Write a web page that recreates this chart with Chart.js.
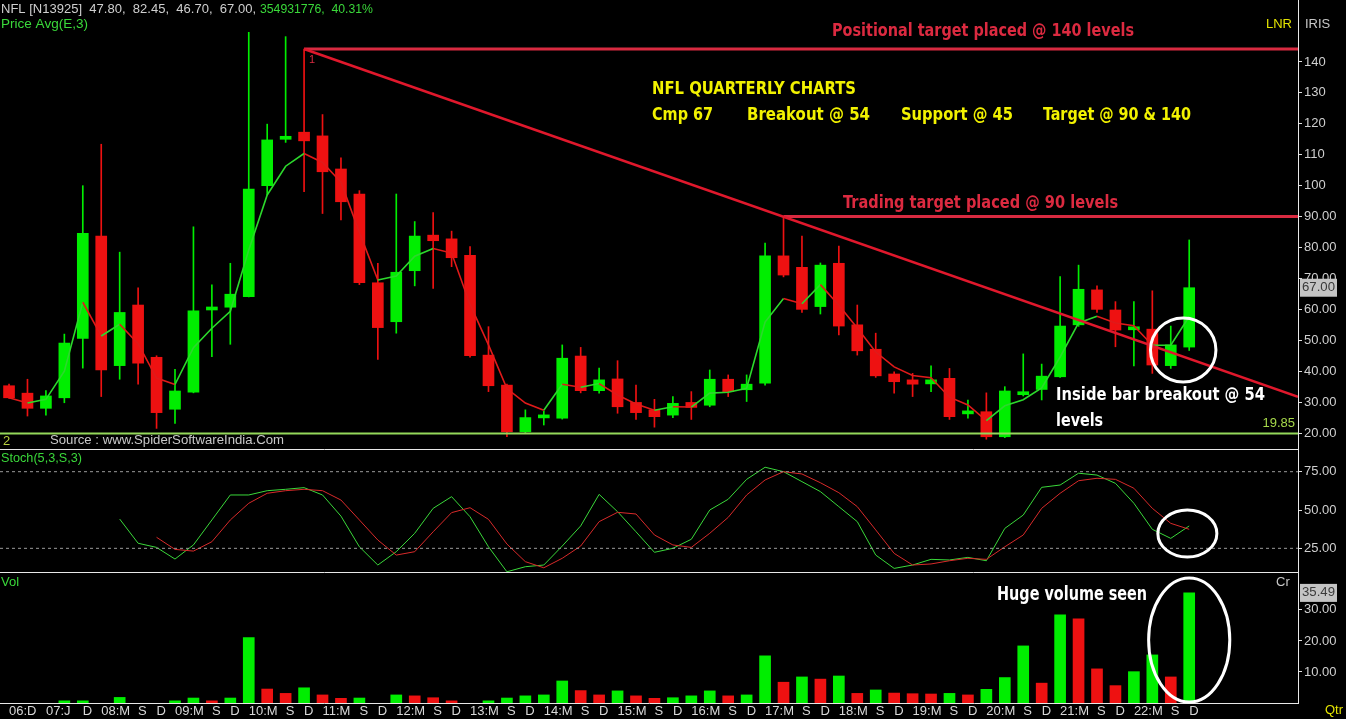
<!DOCTYPE html>
<html>
<head>
<meta charset="utf-8">
<script src="https://cdn.jsdelivr.net/npm/chart.js@4.4.0/dist/chart.umd.min.js"></script>
<style>
  html, body { margin: 0; padding: 0; background: #000; overflow: hidden; }
  #wrap { position: relative; width: 1346px; height: 719px; background: #000; }
  canvas { position: absolute; left: 0; }
</style>
</head>
<body>
<div id="wrap">
  <canvas id="pricePane" width="1346" height="449" style="top:0"></canvas>
  <canvas id="stochPane" width="1346" height="124" style="top:449px"></canvas>
  <canvas id="volPane" width="1346" height="146" style="top:573px"></canvas>
</div>
<script>
// quarterly candles, 06:D .. 22:D
const quarters = ['06:D',
  '07:M','07:J','07:S','07:D', '08:M','08:J','08:S','08:D', '09:M','09:J','09:S','09:D',
  '10:M','10:J','10:S','10:D', '11:M','11:J','11:S','11:D', '12:M','12:J','12:S','12:D',
  '13:M','13:J','13:S','13:D', '14:M','14:J','14:S','14:D', '15:M','15:J','15:S','15:D',
  '16:M','16:J','16:S','16:D', '17:M','17:J','17:S','17:D', '18:M','18:J','18:S','18:D',
  '19:M','19:J','19:S','19:D', '20:M','20:J','20:S','20:D', '21:M','21:J','21:S','21:D',
  '22:M','22:J','22:S','22:D'];
const tickLabels = ['06:D',
  '','07:J','','D', '08:M','','S','D', '09:M','','S','D',
  '10:M','','S','D', '11:M','','S','D', '12:M','','S','D',
  '13:M','','S','D', '14:M','','S','D', '15:M','','S','D',
  '16:M','','S','D', '17:M','','S','D', '18:M','','S','D',
  '19:M','','S','D', '20:M','','S','D', '21:M','','S','D',
  '22:M','','S','D'];

const opens  = [35.3,32.9,28.0,31.4,50.6,83.7,41.8,61.4,44.5,27.7,33.2,59.8,60.7,64.1,100.0,115.0,117.3,116.1,105.4,97.3,68.6,56.0,72.5,84.0,82.8,77.5,45.2,35.5,20.4,24.9,24.8,44.9,33.7,37.5,29.9,27.5,25.8,29.9,29.0,37.4,34.0,36.1,77.3,73.6,60.9,74.9,55.0,47.1,39.1,37.2,35.9,37.7,26.2,26.9,18.8,32.4,34.1,38.2,55.0,66.3,59.8,53.4,53.6,41.8,47.8];
const highs  = [35.8,37.4,33.7,52.0,100.0,113.4,78.5,67.0,45.0,40.6,86.7,67.9,74.9,149.6,119.9,148.2,144.2,123.0,109.0,98.4,74.9,97.3,88.4,91.3,85.3,80.3,54.4,35.8,27.5,27.1,48.5,47.7,41.0,43.4,35.5,30.9,31.8,33.4,40.4,38.8,38.8,81.4,90.0,83.7,75.0,80.5,61.4,52.3,39.8,39.3,41.7,40.9,30.7,33.0,35.0,45.6,42.3,70.6,74.3,67.6,62.5,62.5,66.0,54.6,82.45];
const lows   = [31.2,25.5,25.8,29.8,41.0,31.8,37.4,35.8,21.5,23.1,33.0,44.7,48.7,64.0,97.0,114.0,98.1,91.0,88.9,68.0,43.8,52.3,67.6,66.8,73.8,44.5,33.4,18.8,20.0,22.6,24.5,33.0,32.9,26.4,24.4,21.9,25.0,24.4,28.5,31.8,30.2,35.5,70.5,59.0,58.5,51.7,45.2,38.0,32.9,31.8,33.4,24.4,24.8,18.0,18.5,32.0,30.7,38.0,54.5,59.0,47.9,41.7,39.3,40.9,46.7];
const closes = [31.4,28.0,32.0,49.1,84.6,40.4,59.0,42.6,26.6,33.6,59.5,60.2,64.9,98.9,114.8,115.6,114.5,104.5,94.8,68.6,54.1,72.0,83.7,82.2,76.7,45.0,35.3,20.4,25.0,25.1,44.2,33.7,37.2,28.5,26.6,25.3,29.6,28.3,37.4,33.4,35.8,77.3,71.1,60.0,74.3,54.6,46.6,38.5,36.6,35.8,37.2,25.3,26.6,18.8,33.6,32.8,38.4,54.6,66.5,60.0,53.3,53.8,42.0,48.5,67.0];
// Price Avg(E,3)
const priceAvg = [31.4,29.7,30.9,40.0,62.3,51.4,55.2,48.9,37.8,35.7,47.6,53.9,59.4,79.2,97.0,106.3,110.4,107.5,101.1,84.9,69.5,70.8,77.2,79.7,78.2,61.6,48.5,34.4,29.7,27.4,35.8,34.8,36.0,32.3,29.4,27.4,28.5,28.4,32.9,33.2,34.5,55.9,63.5,61.8,68.0,61.3,54.0,46.2,41.4,38.6,37.9,31.6,29.1,24.0,28.8,30.8,34.6,44.6,55.6,57.8,55.6,54.7,48.4,48.4,57.7];

// Stoch(5,3,S,3)
const stochK = [null,null,null,null,null,null,44.1,28.3,25.6,18.0,27.2,43.5,59.8,59.8,62.6,63.5,64.6,59.8,46.0,26.0,14.1,22.8,34.8,51.1,58.7,45.6,26.0,9.7,13.0,14.1,26.5,39.6,60.2,48.9,35.8,22.4,25.0,30.9,50.0,57.0,70.0,77.9,75.0,68.5,62.0,52.2,42.4,20.6,11.9,14.1,17.8,17.4,19.1,16.9,38.0,46.7,64.8,66.3,74.0,72.8,67.4,54.4,37.4,31.5,39.6];
const stochD = [null,null,null,null,null,null,null,null,32.2,24.3,23.2,29.3,43.5,54.4,60.9,62.6,63.5,62.6,56.5,43.5,30.4,20.6,22.8,35.8,48.3,51.5,43.9,27.8,16.3,12.3,18.5,26.5,42.4,48.5,47.4,33.7,27.2,25.6,34.8,45.2,59.8,69.6,75.0,73.5,67.8,61.3,52.2,37.0,21.7,14.1,14.8,16.9,18.5,17.8,26.0,33.7,51.1,60.9,69.1,70.7,70.0,64.2,51.1,41.3,37.4];

// Volume, crores
const volumes = [null,null,null,0.7,0.7,null,1.8,null,null,0.7,1.6,0.7,1.6,21.1,4.5,3.1,4.9,2.6,1.5,1.6,null,2.6,2.3,1.7,0.7,null,0.7,1.6,2.3,2.6,7.1,4.0,2.6,3.9,2.3,1.5,1.7,2.3,3.9,2.3,2.6,15.2,6.7,8.4,7.7,8.7,3.1,4.2,3.2,3.0,2.9,3.1,2.6,4.4,8.2,18.4,6.4,28.4,27.1,11.0,5.6,10.1,15.5,8.4,35.49];

const priceTicks = [20,30,40,50,60,70,80,90,100,110,120,130,140];
const stochTicks = [25,50,75];
const volTicks = [10,20,30];

const supportLevel = 19.85;
const swingHigh = {x: 16, y: 144.2};
const trendEnd = {x: 69.9, y: 31.7};
const tradeTarget = {x: 42, y: 90};

// ---------------------------------------------------------------
const X_MIN = -0.49, X_MAX = 69.9;
const UP = '#00ee00', DOWN = '#ee1111';
const UI_FONT = "'Liberation Sans Narrow', 'Liberation Sans', Arial, sans-serif";
const NOTE_FONT = "'DejaVu Sans Condensed', 'DejaVu Sans', sans-serif";
const idx = closes.map((_, i) => i);
const candleCol = idx.map(i => closes[i] >= opens[i] ? UP : DOWN);

Chart.defaults.font.family = UI_FONT;
Chart.defaults.color = '#d0d0d0';

function txt(ctx, s, x, y, w, font, color, align) {
  ctx.save();
  ctx.font = font;
  ctx.fillStyle = color;
  ctx.textBaseline = 'middle';
  ctx.textAlign = 'left';
  const m = ctx.measureText(s).width;
  const sx = w ? w / m : 1;
  const realW = m * sx;
  const left = align === 'right' ? x - realW : x;
  ctx.translate(left, y);
  ctx.scale(sx, 1);
  ctx.fillText(s, 0, 0);
  ctx.restore();
}

function ring(chart, e) {
  const ctx = chart.ctx, xs = chart.scales.x, ys = chart.scales.y;
  const x0 = xs.getPixelForValue(e.x0), x1 = xs.getPixelForValue(e.x1);
  const y0 = ys.getPixelForValue(e.y0), y1 = ys.getPixelForValue(e.y1);
  ctx.save();
  ctx.beginPath();
  ctx.ellipse((x0 + x1) / 2, (y0 + y1) / 2, Math.abs(x1 - x0) / 2, Math.abs(y1 - y0) / 2, 0, 0, Math.PI * 2);
  ctx.lineWidth = 3;
  ctx.strokeStyle = '#ffffff';
  ctx.stroke();
  ctx.restore();
}

function valueBox(chart, v, s) {
  const ctx = chart.ctx, y = chart.scales.y.getPixelForValue(v);
  const x = chart.chartArea.right + 2;
  ctx.save();
  ctx.fillStyle = '#c4c4c4';
  ctx.fillRect(x, y - 9, 37, 18);
  ctx.restore();
  txt(ctx, s, x + 2, y, 33, '13px ' + UI_FONT, '#3a3a3a');
}

function rightAxis(min, max, ticks, fmt) {
  return {
    position: 'right', min: min, max: max,
    afterBuildTicks: s => { s.ticks = ticks.map(v => ({value: v})); },
    afterFit: s => { s.width = 48; s.paddingTop = 0; s.paddingBottom = 0; },
    ticks: { color: '#cfcfcf', font: {size: 13}, padding: 2, callback: fmt },
    grid: { drawOnChartArea: false, drawTicks: true, tickLength: 4, tickColor: '#e0e0e0', color: '#e0e0e0' },
    border: { display: true, color: '#e8e8e8', dash: [2, 2] }
  };
}

const hiddenX = { type: 'linear', min: X_MIN, max: X_MAX, offset: false, display: false };

function seg(a, b, color, width) {
  return { type: 'line', data: [a, b], borderColor: color, borderWidth: width, pointRadius: 0, fill: false, order: 0 };
}

// ---------------- price pane ----------------
const pricePane = new Chart(document.getElementById('pricePane'), {
  type: 'bar',
  data: {
    datasets: [
      seg(swingHigh, trendEnd, '#e0182c', 2.5),
      seg(swingHigh, {x: X_MAX, y: swingHigh.y}, '#d82a40', 3),
      seg(tradeTarget, {x: X_MAX, y: tradeTarget.y}, '#d82a40', 3),
      seg({x: X_MIN, y: supportLevel}, {x: X_MAX, y: supportLevel}, '#94d85a', 2),
      {
        type: 'line', data: idx.map(i => ({x: i, y: priceAvg[i]})),
        borderWidth: 1.6, pointRadius: 0, fill: false, order: 1,
        segment: { borderColor: c => c.p1.parsed.y >= c.p0.parsed.y ? '#2cd82c' : '#e01a1a' }
      },
      {
        data: idx.map(i => ({x: i, y: [opens[i], closes[i]]})),
        backgroundColor: candleCol, barThickness: 11, minBarLength: 3, grouped: false, order: 2
      },
      {
        data: idx.map(i => ({x: i, y: [lows[i], highs[i]]})),
        backgroundColor: candleCol, barThickness: 1, grouped: false, order: 3
      }
    ]
  },
  options: {
    responsive: false, animation: false, events: [],
    layout: { padding: 0 },
    plugins: { legend: { display: false }, tooltip: { enabled: false } },
    scales: {
      x: hiddenX,
      y: rightAxis(14.84, 160.05, priceTicks, v => v >= 100 ? String(v) : v.toFixed(2))
    }
  },
  plugins: [{
    id: 'priceNotes',
    afterDraw(chart) {
      const ctx = chart.ctx, xs = chart.scales.x, ys = chart.scales.y;
      const B = 'bold 18px ' + NOTE_FONT;
      const notes = [
        ['Positional target placed @ 140 levels', 44.63, 150.0, 302, '#dc2a40'],
        ['NFL QUARTERLY CHARTS', 34.87, 131.3, 204, '#f2f200'],
        ['Cmp 67', 34.87, 122.9, 61, '#f2f200'],
        ['Breakout @ 54', 40.02, 122.9, 123, '#f2f200'],
        ['Support @ 45', 48.37, 122.9, 112, '#f2f200'],
        ['Target @ 90 & 140', 56.07, 122.9, 148, '#f2f200'],
        ['Trading target placed @ 90 levels', 45.23, 94.4, 275, '#dc2a40'],
        ['Inside bar breakout @ 54', 56.78, 32.3, 209, '#ffffff'],
        ['levels', 56.78, 23.9, 47, '#ffffff']
      ];
      notes.forEach(n => txt(ctx, n[0], xs.getPixelForValue(n[1]), ys.getPixelForValue(n[2]), n[3], B, n[4]));

      ring(chart, {x0: 61.9, x1: 65.45, y0: 57.2, y1: 36.5});

      const S = '13px ' + UI_FONT;
      txt(ctx, 'NFL [N13925]  47.80,  82.45,  46.70,  67.00,', 1, 9, 255, S, '#cfcfcf');
      txt(ctx, '354931776,  40.31%', 260, 9, 113, S, '#3ad83a');
      txt(ctx, 'Price Avg(E,3)', 1, 24, 87, S, '#3ad83a');
      txt(ctx, 'LNR', 1266, 24, 0, S, '#e4e400');
      txt(ctx, 'IRIS', 1305, 24, 0, S, '#c8c8c8');
      txt(ctx, '1', xs.getPixelForValue(swingHigh.x) + 5, ys.getPixelForValue(swingHigh.y) + 11, 0, '11px ' + UI_FONT, '#d82a40');
      txt(ctx, '19.85', chart.chartArea.right - 3, ys.getPixelForValue(supportLevel) - 10, 0, S, '#a6d84a', 'right');
      txt(ctx, '2', 3, 441, 0, S, '#b8d040');
      txt(ctx, 'Source : www.SpiderSoftwareIndia.Com', 50, 441, 234, '12px ' + UI_FONT, '#c8c8c8');
      valueBox(chart, closes[closes.length - 1], '67.00');
    }
  }]
});

// ---------------- stochastic pane ----------------
function flat(v) {
  return { type: 'line', data: [{x: X_MIN, y: v}, {x: X_MAX, y: v}], borderColor: '#9a9a9a', borderWidth: 1, borderDash: [3, 3], pointRadius: 0, fill: false };
}
const stochPane = new Chart(document.getElementById('stochPane'), {
  type: 'line',
  data: {
    datasets: [
      flat(75), flat(25),
      { data: idx.map(i => ({x: i, y: stochD[i]})), borderColor: '#d82a2a', borderWidth: 1, pointRadius: 0, fill: false },
      { data: idx.map(i => ({x: i, y: stochK[i]})), borderColor: '#3ad83a', borderWidth: 1, pointRadius: 0, fill: false }
    ]
  },
  options: {
    responsive: false, animation: false, events: [],
    layout: { padding: 0 },
    plugins: { legend: { display: false }, tooltip: { enabled: false } },
    scales: {
      x: hiddenX,
      y: rightAxis(8.9, 89.8, stochTicks, v => v.toFixed(2))
    }
  },
  plugins: [{
    id: 'stochNotes',
    afterDraw(chart) {
      const ctx = chart.ctx, a = chart.chartArea;
      ctx.save();
      ctx.strokeStyle = '#e8e8e8';
      ctx.lineWidth = 1;
      ctx.beginPath();
      ctx.moveTo(a.left, a.top + 0.5); ctx.lineTo(a.right, a.top + 0.5);
      ctx.moveTo(a.left, a.bottom - 0.5); ctx.lineTo(a.right, a.bottom - 0.5);
      ctx.stroke();
      ctx.restore();
      txt(ctx, 'Stoch(5,3,S,3)', 1, 9, 81, '13px ' + UI_FONT, '#3ad83a');
      ring(chart, {x0: 62.3, x1: 65.5, y0: 50.0, y1: 19.3});
    }
  }]
});

// ---------------- volume pane ----------------
const volCol = [];
let prevVol = 0;
volumes.forEach(v => {
  if (v === null) { volCol.push(UP); prevVol = 0; return; }
  volCol.push(v >= prevVol ? UP : DOWN);
  prevVol = v;
});

const volPane = new Chart(document.getElementById('volPane'), {
  type: 'bar',
  data: {
    datasets: [{
      data: idx.map(i => ({x: i, y: volumes[i]})),
      backgroundColor: volCol, barThickness: 11, grouped: false
    }]
  },
  options: {
    responsive: false, animation: false, events: [],
    layout: { padding: 0 },
    plugins: { legend: { display: false }, tooltip: { enabled: false } },
    scales: {
      x: {
        type: 'linear', min: X_MIN, max: X_MAX, offset: false,
        afterBuildTicks: s => { s.ticks = quarters.map((q, i) => ({value: i})); },
        afterFit: s => { s.height = 16; s.paddingLeft = 0; s.paddingRight = 0; },
        ticks: {
          autoSkip: false, maxRotation: 0, minRotation: 0, align: 'start', padding: 1,
          color: '#d8d8d8', font: {size: 13},
          callback: v => tickLabels[v] || ''
        },
        grid: { display: false, drawTicks: false, tickLength: 0 },
        border: { display: true, color: '#e8e8e8', dash: [1, 1] }
      },
      y: rightAxis(0, 41.9, volTicks, v => v.toFixed(2))
    }
  },
  plugins: [{
    id: 'volNotes',
    afterDraw(chart) {
      const ctx = chart.ctx, xs = chart.scales.x, ys = chart.scales.y;
      const S = '13px ' + UI_FONT;
      txt(ctx, 'Vol', 1, 9, 0, S, '#3ad83a');
      txt(ctx, 'Cr', 1276, 9, 0, S, '#c8c8c8');
      txt(ctx, 'Qtr', 1325, 137, 0, S, '#e4e400');
      txt(ctx, 'Huge volume seen', xs.getPixelForValue(53.58), ys.getPixelForValue(34.8), 150, 'bold 19px ' + NOTE_FONT, '#ffffff');
      ring(chart, {x0: 61.8, x1: 66.2, y0: 40.3, y1: 0.3});
      valueBox(chart, volumes[volumes.length - 1], '35.49');
    }
  }]
});
</script>
</body>
</html>
